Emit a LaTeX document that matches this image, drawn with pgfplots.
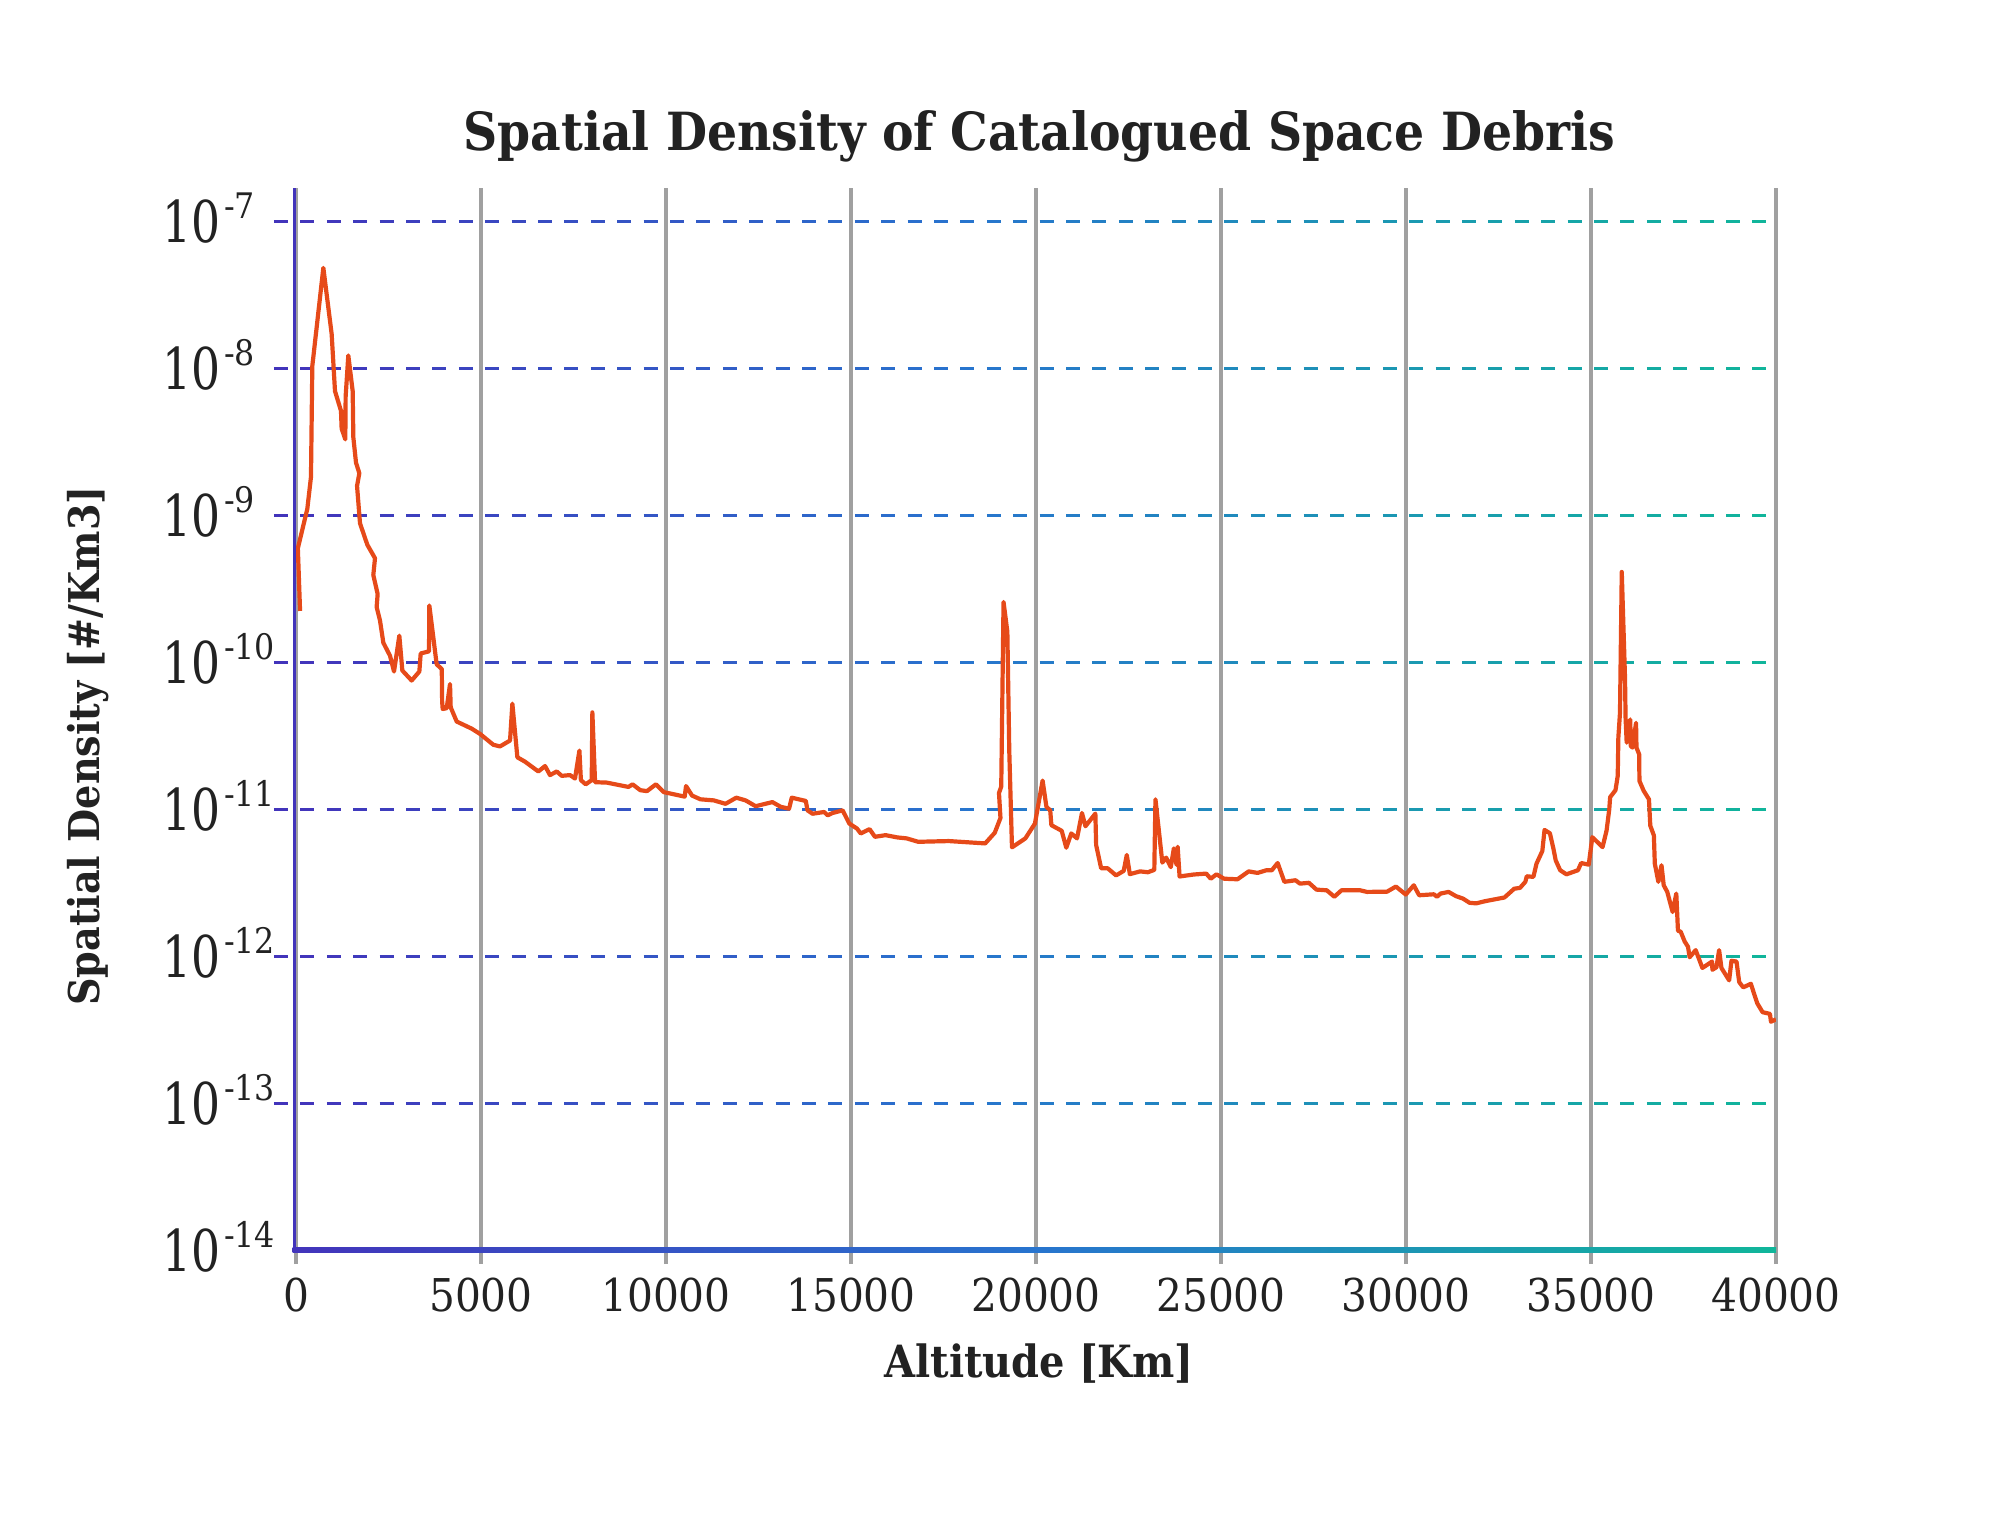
\documentclass[border=0pt]{standalone}
\usepackage{pgfplots}
\pgfplotsset{compat=1.18}
\usepackage{fontspec}
\setmainfont{DejaVu Serif}
\newfontfamily\slabcond{DejaVu Serif Condensed}
\newfontfamily\slabnarrow{DejaVu Serif Condensed}[FakeStretch=0.88]

\definecolor{gridA}{RGB}{66,52,187}
\definecolor{gridB}{RGB}{40,116,206}
\definecolor{gridC}{RGB}{16,182,154}
\definecolor{debris}{RGB}{230,74,25}
\definecolor{vgrid}{RGB}{160,160,160}
\definecolor{ink}{RGB}{34,34,34}

% axis box: 370pt x 265.5pt, log range 1e-14 .. 10^-6.7706 (36.725pt per decade)
\newcommand{\axW}{370}
\newcommand{\dec}{36.725}
% power-of-ten tick label set in the text font
\newcommand{\pten}[1]{{\slabnarrow\fontsize{14.4}{16}\selectfont 10}\kern0.8pt\raisebox{6pt}{\slabcond\fontsize{8.8}{10}\selectfont #1}}

\begin{document}
\begin{tikzpicture}
\path[use as bounding box] (-74pt,-67.75pt) rectangle (427.5pt,312.5pt);

% dashed decade lines with a left-to-right colour ramp
\foreach \i in {0,...,56}{
  \pgfmathsetmacro{\xa}{-5.5+\i*6.6}
  \pgfmathsetmacro{\xb}{min(\xa+3.5,\axW)}
  \pgfmathsetmacro{\t}{max(0,min(1,(\xa+1.75)/\axW))}
  \ifdim \t pt < 0.45pt
    \pgfmathsetmacro{\p}{100*\t/0.45}
    \colorlet{dc}{gridB!\p!gridA}
  \else
    \pgfmathsetmacro{\p}{100*(\t-0.45)/0.55}
    \colorlet{dc}{gridC!\p!gridB}
  \fi
  \foreach \k in {1,...,7}{
    \draw[dc, line width=0.72pt] ({\xa pt},{\k*\dec pt}) -- ({\xb pt},{\k*\dec pt});
  }
}

\begin{axis}[
  at={(0,0)}, anchor=south west,
  scale only axis, width=370pt, height=265.5pt,
  xmin=0, xmax=40000,
  ymode=log, ymin=1e-14, ymax=1.696e-7,
  axis line style={draw=none},
  xtick={0,5000,10000,15000,20000,25000,30000,35000,40000},
  xticklabels={0,5000,10000,15000,20000,25000,30000,35000,40000},
  xtick pos=bottom, ytick pos=left,
  tick align=outside, major tick length=3.5pt,
  xtick style={draw=vgrid, line width=1pt},
  xmajorgrids, x grid style={draw=vgrid, line width=1pt},
  ytick={1e-14,1e-13,1e-12,1e-11,1e-10,1e-9,1e-8,1e-7},
  yticklabels={\pten{-14},\pten{-13},\pten{-12},\pten{-11},\pten{-10},\pten{-9},\pten{-8},\pten{-7}},
  ytick style={draw=none}, yminorticks=false,
  xticklabel style={font=\slabcond\fontsize{11.3}{13}\selectfont, text=ink},
  yticklabel style={text=ink, anchor=base west, inner sep=0pt, xshift=-30pt, yshift=-5.3pt},
  scaled x ticks=false,
]
\addplot[color=debris, line width=1.05pt, line join=round] table[x=alt, y=dens] {
alt dens
110 2.24e-10
50 5.98e-10
306 1.11e-9
405 1.83e-9
441 1.04e-8
739 4.85e-8
964 1.72e-8
1054 7.03e-9
1216 5.16e-9
1234 3.90e-9
1333 3.30e-9
1342 6.46e-9
1414 1.23e-8
1532 7.03e-9
1550 3.40e-9
1622 2.29e-9
1712 1.94e-9
1650 1.59e-9
1730 8.85e-10
1928 6.32e-10
2135 5.12e-10
2090 3.93e-10
2207 2.92e-10
2180 2.38e-10
2270 1.93e-10
2361 1.36e-10
2541 1.11e-10
2649 8.67e-11
2793 1.52e-10
2874 8.81e-11
3126 7.53e-11
3334 8.67e-11
3370 1.15e-10
3595 1.19e-10
3604 2.44e-10
3802 9.70e-11
3940 9.02e-11
3950 5.40e-11
3965 4.82e-11
4073 4.88e-11
4163 7.13e-11
4181 4.95e-11
4343 3.96e-11
4749 3.54e-11
4974 3.26e-11
5334 2.75e-11
5514 2.68e-11
5785 2.94e-11
5848 5.24e-11
5983 2.26e-11
6190 2.11e-11
6550 1.81e-11
6731 1.97e-11
6866 1.71e-11
7047 1.81e-11
7182 1.69e-11
7407 1.71e-11
7541 1.62e-11
7660 2.51e-11
7700 1.58e-11
7830 1.48e-11
7993 1.58e-11
8010 4.57e-11
8083 1.53e-11
8400 1.52e-11
8987 1.42e-11
9096 1.48e-11
9304 1.35e-11
9485 1.33e-11
9729 1.48e-11
9937 1.31e-11
10506 1.22e-11
10542 1.44e-11
10705 1.24e-11
10931 1.17e-11
11293 1.15e-11
11610 1.09e-11
11899 1.20e-11
12152 1.15e-11
12423 1.05e-11
12875 1.12e-11
13101 1.04e-11
13327 1.01e-11
13399 1.20e-11
13779 1.14e-11
13824 9.84e-12
13960 9.33e-12
14276 9.59e-12
14367 9.10e-12
14502 9.44e-12
14774 9.84e-12
14954 8.00e-12
15161 7.40e-12
15264 6.85e-12
15502 7.33e-12
15647 6.50e-12
15937 6.67e-12
16247 6.44e-12
16506 6.34e-12
16816 6.01e-12
17644 6.08e-12
18627 5.86e-12
18885 6.92e-12
19040 8.73e-12
19000 1.29e-11
19061 1.43e-11
19123 2.58e-10
19226 1.62e-10
19278 2.51e-11
19351 5.51e-12
19713 6.34e-12
19972 8.00e-12
20179 1.57e-11
20282 1.04e-11
20385 9.84e-12
20416 7.80e-12
20695 7.14e-12
20819 5.48e-12
20954 6.85e-12
21109 6.34e-12
21243 9.44e-12
21337 7.67e-12
21605 9.35e-12
21626 5.71e-12
21761 3.97e-12
21937 3.97e-12
22164 3.55e-12
22371 3.81e-12
22454 4.89e-12
22537 3.62e-12
22816 3.78e-12
23023 3.73e-12
23198 3.87e-12
23229 1.17e-11
23415 4.34e-12
23519 4.69e-12
23643 4.04e-12
23726 5.42e-12
23798 4.19e-12
23829 5.56e-12
23881 3.49e-12
24264 3.60e-12
24602 3.65e-12
24723 3.37e-12
24879 3.61e-12
25084 3.37e-12
25446 3.34e-12
25748 3.78e-12
25989 3.69e-12
26230 3.85e-12
26375 3.85e-12
26532 4.31e-12
26713 3.21e-12
27014 3.29e-12
27135 3.12e-12
27376 3.16e-12
27581 2.84e-12
27859 2.81e-12
28064 2.54e-12
28257 2.81e-12
28763 2.81e-12
28944 2.74e-12
29487 2.75e-12
29728 2.98e-12
29994 2.63e-12
30211 3.04e-12
30356 2.60e-12
30754 2.64e-12
30838 2.54e-12
30935 2.67e-12
31152 2.74e-12
31357 2.56e-12
31538 2.47e-12
31719 2.31e-12
31900 2.29e-12
32141 2.37e-12
32660 2.51e-12
32925 2.88e-12
33082 2.92e-12
33226 3.21e-12
33263 3.50e-12
33444 3.47e-12
33528 4.27e-12
33685 5.20e-12
33745 7.24e-12
33890 6.87e-12
33986 5.38e-12
34047 4.49e-12
34167 3.85e-12
34336 3.61e-12
34649 3.85e-12
34734 4.31e-12
34939 4.20e-12
35036 6.46e-12
35313 5.53e-12
35422 7.18e-12
35494 1.00e-11
35518 1.21e-11
35663 1.35e-11
35723 1.69e-11
35740 3.08e-11
35784 4.54e-11
35832 4.13e-10
35920 7.83e-11
35935 4.20e-11
35965 2.84e-11
36061 4.09e-11
36075 2.70e-11
36121 2.63e-11
36218 3.88e-11
36230 2.63e-11
36302 2.37e-11
36310 1.56e-11
36422 1.34e-11
36567 1.17e-11
36603 7.74e-12
36700 6.64e-12
36725 4.27e-12
36821 3.21e-12
36906 4.16e-12
36966 3.04e-12
37062 2.74e-12
37207 2.00e-12
37306 2.67e-12
37351 1.49e-12
37424 1.47e-12
37532 1.26e-12
37622 1.16e-12
37667 9.84e-13
37830 1.10e-12
38011 8.32e-13
38273 9.20e-13
38282 8.09e-13
38391 8.41e-13
38463 1.10e-12
38526 8.32e-13
38734 6.85e-13
38797 9.31e-13
38933 9.20e-13
39006 6.67e-13
39114 6.14e-13
39322 6.49e-13
39431 5.33e-13
39494 4.78e-13
39638 4.16e-13
39837 4.05e-13
39865 3.58e-13
40000 3.72e-13
};
\end{axis}

% axis lines
\draw[gridA, line width=0.9pt] (-0.4pt,0) -- (-0.4pt,265.5pt);
\shade[left color=gridA, right color=gridC, middle color=gridB] (-0.85pt,-0.55pt) rectangle (370pt,0.55pt);

% title and axis titles
\node[anchor=base, text=ink, inner sep=0pt] at (185.8pt,274.75pt)
  {\slabcond\bfseries\fontsize{13.15}{16}\selectfont Spatial Density of Catalogued Space Debris};
\node[anchor=base, text=ink, inner sep=0pt] at (185.8pt,-32pt)
  {\slabcond\bfseries\fontsize{11.1}{14}\selectfont Altitude [Km]};
\node[anchor=base, rotate=90, text=ink, inner sep=0pt] at (-49pt,126pt)
  {\slabcond\bfseries\fontsize{10.6}{14}\selectfont Spatial Density [\#/Km3]};
\end{tikzpicture}
\end{document}
